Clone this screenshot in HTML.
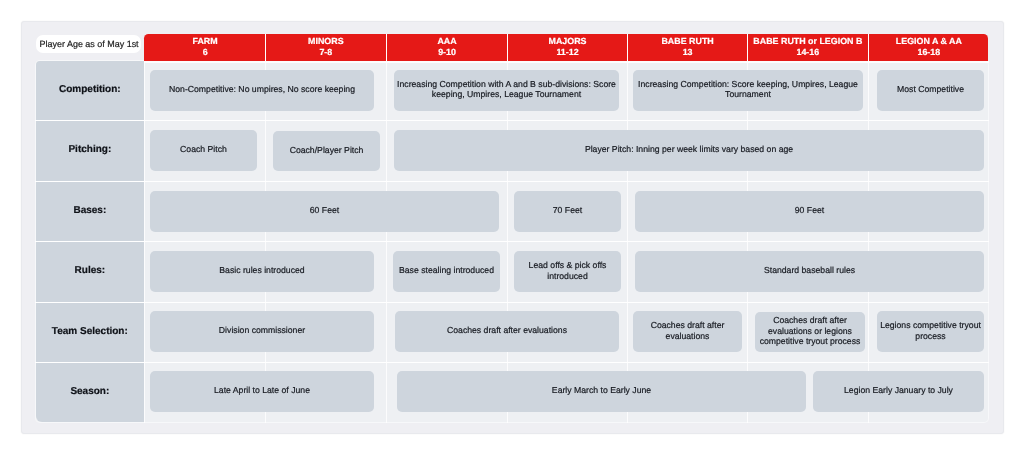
<!DOCTYPE html>
<html><head><meta charset="utf-8"><title>Player Age Divisions</title>
<style>
*{margin:0;padding:0;box-sizing:border-box}
html,body{width:1024px;height:454px;background:#fff;overflow:hidden;font-family:"Liberation Sans",sans-serif}
body{position:relative}
.a{position:absolute}
.t{-webkit-font-smoothing:antialiased;will-change:transform;text-rendering:geometricPrecision;-webkit-text-stroke:0.2px currentColor}
.panel{background:#efeff3;border-radius:3px;border:1px solid #e8e9ed;box-shadow:0 0 1.5px rgba(0,0,0,.07)}
.pill{background:#fff;border-radius:7px;color:#222;font-size:8.96px;display:flex;align-items:center;justify-content:center;white-space:nowrap;padding:0.9px 0 0 1.4px}
.hdr{background:#e51917;border-radius:4.5px 4.5px 0 0}
.hc{color:#fff;font-weight:bold;font-size:8.9px;line-height:10.9px;text-align:center;display:flex;flex-direction:column;align-items:center;justify-content:center;white-space:nowrap;padding-bottom:0.5px}
.vl{background:#fff;width:1px}
.vg{background:rgba(255,255,255,.8)}
.hl{background:#fff;height:1px}
.tbl{background:#eef0f3;border:1px solid rgba(255,255,255,.55);border-radius:5px}
.lblcol{background:#ced5dd;border-radius:4px 0 0 6px}
.lbl{color:#0f1218;font-weight:bold;font-size:10px;display:flex;align-items:center;justify-content:center;text-align:center;padding-bottom:2.4px}
.box{background:#ced5dd;border-radius:5px;color:#181b22;font-size:8.68px;line-height:10.6px;display:flex;align-items:center;justify-content:center;text-align:center;padding:0 1.5px 2px}
</style></head><body>

<div class="a panel" style="left:21px;top:21px;width:983px;height:413px"></div>
<div class="a pill t" style="left:35.9px;top:35.3px;width:104.8px;height:17.6px">Player Age as of May 1st</div>
<div class="a tbl" style="left:35px;top:59.5px;width:954.2px;height:363.5px"></div>
<div class="a lblcol" style="left:36px;top:60.5px;width:107.7px;height:361.5px"></div>
<div class="a vl vg" style="left:143.7px;top:59.5px;height:363px"></div>
<div class="a vl vg" style="left:264.9px;top:34px;height:388.5px"></div>
<div class="a vl vg" style="left:385.5px;top:34px;height:388.5px"></div>
<div class="a vl vg" style="left:506.6px;top:34px;height:388.5px"></div>
<div class="a vl vg" style="left:626.6px;top:34px;height:388.5px"></div>
<div class="a vl vg" style="left:746.8px;top:34px;height:388.5px"></div>
<div class="a vl vg" style="left:867.5px;top:34px;height:388.5px"></div>
<div class="a hl" style="left:35px;top:120px;width:954.2px"></div>
<div class="a hl" style="left:35px;top:181px;width:954.2px"></div>
<div class="a hl" style="left:35px;top:241.4px;width:954.2px"></div>
<div class="a hl" style="left:35px;top:302px;width:954.2px"></div>
<div class="a hl" style="left:35px;top:362px;width:954.2px"></div>
<div class="a hdr" style="left:144px;top:34px;width:844.2px;height:27.3px"></div>
<div class="a vl" style="left:264.9px;top:34px;height:27.3px"></div>
<div class="a vl" style="left:385.5px;top:34px;height:27.3px"></div>
<div class="a vl" style="left:506.6px;top:34px;height:27.3px"></div>
<div class="a vl" style="left:626.6px;top:34px;height:27.3px"></div>
<div class="a vl" style="left:746.8px;top:34px;height:27.3px"></div>
<div class="a vl" style="left:867.5px;top:34px;height:27.3px"></div>
<div class="a hl" style="left:144.2px;top:61px;width:844.5px;height:2px;background:rgba(255,255,255,.85)"></div>
<div class="a hc t" style="left:144.7px;top:34px;width:120.2px;height:27.3px"><span>FARM</span><span>6</span></div>
<div class="a hc t" style="left:265.9px;top:34px;width:119.6px;height:27.3px"><span>MINORS</span><span>7-8</span></div>
<div class="a hc t" style="left:386.5px;top:34px;width:120.1px;height:27.3px"><span>AAA</span><span>9-10</span></div>
<div class="a hc t" style="left:507.6px;top:34px;width:119px;height:27.3px"><span>MAJORS</span><span>11-12</span></div>
<div class="a hc t" style="left:627.6px;top:34px;width:119.2px;height:27.3px"><span>BABE RUTH</span><span>13</span></div>
<div class="a hc t" style="left:747.8px;top:34px;width:119.7px;height:27.3px"><span>BABE RUTH or LEGION B</span><span>14-16</span></div>
<div class="a hc t" style="left:868.5px;top:34px;width:119.7px;height:27.3px"><span>LEGION A &amp; AA</span><span>16-18</span></div>
<div class="a lbl t" style="left:36px;top:60.5px;width:107.7px;height:59.5px">Competition:</div>
<div class="a lbl t" style="left:36px;top:121px;width:107.7px;height:60px">Pitching:</div>
<div class="a lbl t" style="left:36px;top:182px;width:107.7px;height:59.4px">Bases:</div>
<div class="a lbl t" style="left:36px;top:242.4px;width:107.7px;height:59.6px">Rules:</div>
<div class="a lbl t" style="left:36px;top:303px;width:107.7px;height:59px">Team Selection:</div>
<div class="a lbl t" style="left:36px;top:363px;width:107.7px;height:59px">Season:</div>
<div class="a box t" style="left:150px;top:70px;width:224px;height:40.8px">Non-Competitive: No umpires, No score keeping</div>
<div class="a box t" style="left:394px;top:70px;width:225px;height:40.8px">Increasing Competition with A and B sub-divisions: Score keeping, Umpires, League Tournament</div>
<div class="a box t" style="left:633px;top:70px;width:230px;height:40.8px">Increasing Competition: Score keeping, Umpires, League Tournament</div>
<div class="a box t" style="left:877px;top:70px;width:107px;height:40.8px">Most Competitive</div>
<div class="a box t" style="left:150px;top:130.2px;width:107px;height:40.6px">Coach Pitch</div>
<div class="a box t" style="left:273px;top:131px;width:107px;height:40.3px">Coach/Player Pitch</div>
<div class="a box t" style="left:394px;top:130.2px;width:590px;height:40.6px">Player Pitch: Inning per week limits vary based on age</div>
<div class="a box t" style="left:150px;top:190.7px;width:349px;height:41.1px">60 Feet</div>
<div class="a box t" style="left:514px;top:190.7px;width:107px;height:41.1px">70 Feet</div>
<div class="a box t" style="left:635px;top:190.7px;width:349px;height:41.1px">90 Feet</div>
<div class="a box t" style="left:150px;top:250.7px;width:224px;height:41.1px">Basic rules introduced</div>
<div class="a box t" style="left:393px;top:250.7px;width:107px;height:41.1px">Base stealing introduced</div>
<div class="a box t" style="left:514px;top:250.7px;width:107px;height:41.1px">Lead offs &amp; pick offs introduced</div>
<div class="a box t" style="left:635px;top:250.7px;width:349px;height:41.1px">Standard baseball rules</div>
<div class="a box t" style="left:150px;top:310.7px;width:224px;height:41.1px">Division commissioner</div>
<div class="a box t" style="left:395px;top:310.7px;width:224px;height:41.1px">Coaches draft after evaluations</div>
<div class="a box t" style="left:633px;top:310.7px;width:109px;height:41.1px">Coaches draft after evaluations</div>
<div class="a box t" style="left:755px;top:312px;width:110px;height:40.2px">Coaches draft after evaluations or legions competitive tryout process</div>
<div class="a box t" style="left:877px;top:310.7px;width:107px;height:41.1px">Legions competitive tryout process</div>
<div class="a box t" style="left:150px;top:370.7px;width:224px;height:40.6px">Late April to Late of June</div>
<div class="a box t" style="left:397px;top:370.7px;width:409px;height:40.6px">Early March to Early June</div>
<div class="a box t" style="left:813px;top:370.7px;width:171px;height:40.6px">Legion Early January to July</div>
</body></html>
